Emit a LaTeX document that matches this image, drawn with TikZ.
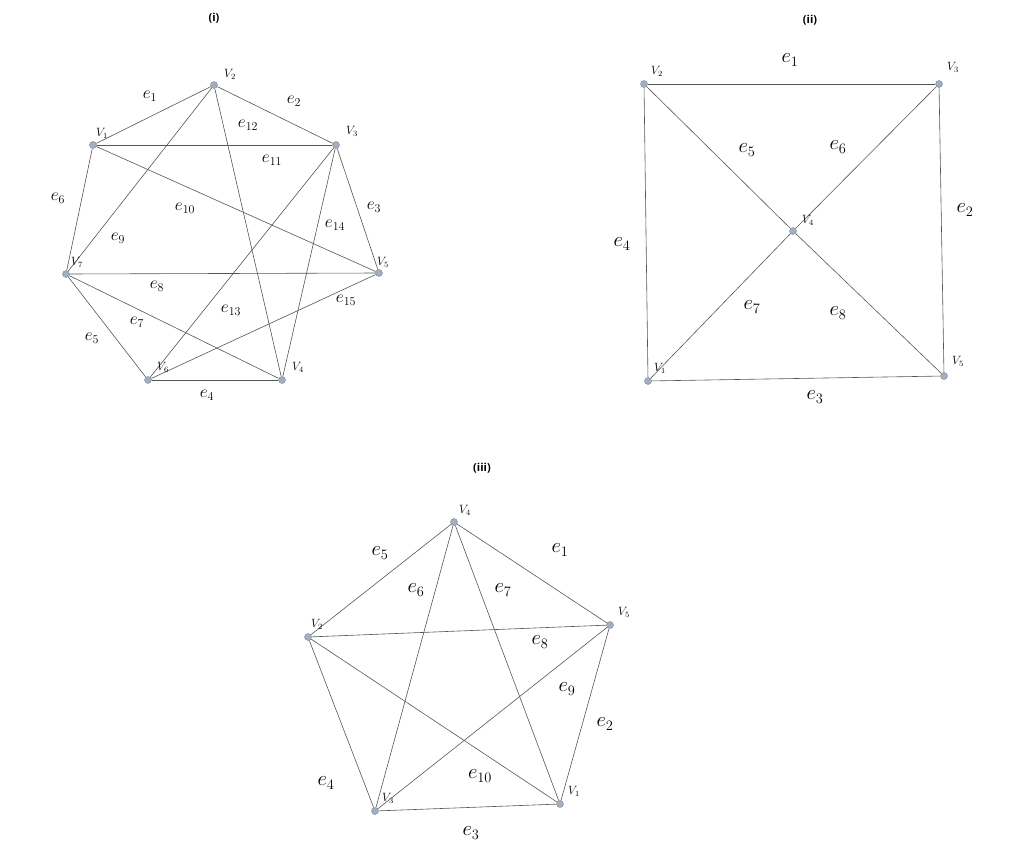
\documentclass[tikz,border=0pt]{standalone}
\usepackage{fontspec}
\setsansfont{Open Sans}
\begin{document}
\begin{tikzpicture}[x=1pt,y=-1pt,
  vx/.style={circle,fill=dotc,draw=dotd,line width=0.4pt,inner sep=0pt,minimum size=7pt},
  ed/.style={draw=linec,line width=0.6pt},
  vl/.style={font=\fontsize{12}{12}\selectfont\bfseries},
  el/.style={font=\fontsize{17}{17}\selectfont},
  elb/.style={font=\fontsize{21}{21}\selectfont},
  ttl/.style={font=\sffamily\bfseries\fontsize{11}{11}\selectfont}]
\definecolor{dotc}{HTML}{A3AEBE}\definecolor{dotd}{HTML}{7D8898}\definecolor{linec}{HTML}{555555}
\useasboundingbox (0,0) rectangle (1024,859);
% titles
\node[ttl] (t1) at (214,18) {(i)};
\node[ttl] (t2) at (810,20) {(ii)};
\node[ttl] (t3) at (482,468) {(iii)};
% graph (i)
\node[vx] (a1) at (93,145) {};
\node[vx] (a2) at (214,85) {};
\node[vx] (a3) at (336,145) {};
\node[vx] (a5) at (379,273) {};
\node[vx] (a7) at (66,274) {};
\node[vx] (a6) at (148,380) {};
\node[vx] (a4) at (282,380) {};
\foreach \u/\v in {a1/a2,a2/a3,a3/a5,a1/a7,a7/a6,a6/a4,a1/a3,a1/a5,a2/a7,a2/a4,a7/a5,a7/a4,a3/a6,a3/a4,a5/a6}
  \draw[ed] (\u) -- (\v);
\node[vl] (la1) at (102,133) {$V_1$};
\node[vl] (la2) at (230,74) {$V_2$};
\node[vl] (la3) at (352,131) {$V_3$};
\node[vl] (la5) at (383,262) {$V_5$};
\node[vl] (la7) at (77,262) {$V_7$};
\node[vl] (la6) at (163,367) {$V_6$};
\node[vl] (la4) at (298,367) {$V_4$};
\node[el] (ea1) at (150,96) {$e_{1}$};
\node[el] (ea2) at (294,101) {$e_{2}$};
\node[el] (ea12) at (248,125) {$e_{12}$};
\node[el] (ea11) at (272,160) {$e_{11}$};
\node[el] (ea10) at (185,208) {$e_{10}$};
\node[el] (ea6) at (58,198) {$e_{6}$};
\node[el] (ea9) at (118,238) {$e_{9}$};
\node[el] (ea3) at (374,207) {$e_{3}$};
\node[el] (ea14) at (335,225) {$e_{14}$};
\node[el] (ea8) at (157,286) {$e_{8}$};
\node[el] (ea13) at (231,310) {$e_{13}$};
\node[el] (ea15) at (346,300) {$e_{15}$};
\node[el] (ea7) at (137,322) {$e_{7}$};
\node[el] (ea5) at (92,338) {$e_{5}$};
\node[el] (ea4) at (207,395) {$e_{4}$};
% graph (ii)
\node[vx] (b2) at (644,84) {};
\node[vx] (b3) at (939,84) {};
\node[vx] (b4) at (793,231) {};
\node[vx] (b1) at (648,381) {};
\node[vx] (b5) at (944,376) {};
\foreach \u/\v in {b2/b3,b3/b5,b5/b1,b1/b2,b2/b4,b4/b5,b3/b4,b4/b1}
  \draw[ed] (\u) -- (\v);
\node[vl] (lb2) at (657,71) {$V_2$};
\node[vl] (lb3) at (953,67) {$V_3$};
\node[vl] (lb4) at (808,220) {$V_4$};
\node[vl] (lb1) at (660,368) {$V_1$};
\node[vl] (lb5) at (958,361) {$V_5$};
\node[elb] (eb1) at (790,60) {$e_{1}$};
\node[elb] (eb5) at (747,150) {$e_{5}$};
\node[elb] (eb6) at (838,147) {$e_{6}$};
\node[elb] (eb4) at (622,244) {$e_{4}$};
\node[elb] (eb2) at (965,210) {$e_{2}$};
\node[elb] (eb7) at (752,307) {$e_{7}$};
\node[elb] (eb8) at (838,313) {$e_{8}$};
\node[elb] (eb3) at (815,397) {$e_{3}$};
% graph (iii)
\node[vx] (c4) at (454,522) {};
\node[vx] (c5) at (610,625) {};
\node[vx] (c2) at (308,637) {};
\node[vx] (c3) at (375,811) {};
\node[vx] (c1) at (560,804) {};
\foreach \u/\v in {c4/c2,c4/c5,c4/c3,c4/c1,c2/c5,c5/c3,c5/c1,c2/c3,c2/c1,c3/c1}
  \draw[ed] (\u) -- (\v);
\node[vl] (lc4) at (465,510) {$V_4$};
\node[vl] (lc5) at (624,612) {$V_5$};
\node[vl] (lc2) at (317,624) {$V_2$};
\node[vl] (lc3) at (388,798) {$V_3$};
\node[vl] (lc1) at (574,791) {$V_1$};
\node[elb] (ec5) at (380,553) {$e_{5}$};
\node[elb] (ec1) at (560,550) {$e_{1}$};
\node[elb] (ec6) at (416,590) {$e_{6}$};
\node[elb] (ec7) at (503,590) {$e_{7}$};
\node[elb] (ec8) at (540,642) {$e_{8}$};
\node[elb] (ec9) at (567,689) {$e_{9}$};
\node[elb] (ec2) at (605,724) {$e_{2}$};
\node[elb] (ec4) at (326,783) {$e_{4}$};
\node[elb] (ec10) at (480,776) {$e_{10}$};
\node[elb] (ec3) at (471,833) {$e_{3}$};
\end{tikzpicture}
\end{document}
